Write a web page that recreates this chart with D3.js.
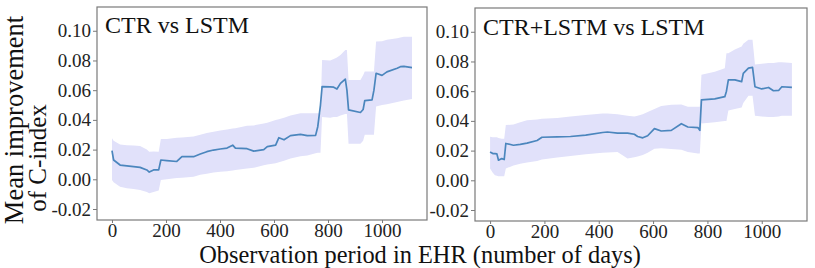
<!DOCTYPE html>
<html>
<head>
<meta charset="utf-8">
<script src="https://cdn.jsdelivr.net/npm/d3@7"></script>
<style>
  body { margin: 0; background: #fff; }
  svg text { font-family: "Liberation Serif", "Times New Roman", serif; }
</style>
</head>
<body>
<div id="chart"></div>
<script>
const xTicks = [0, 200, 400, 600, 800, 1000]
const yTicks = [-0.02, 0.00, 0.02, 0.04, 0.06, 0.08, 0.10]

// CTR vs LSTM
const daysA = [0, 6, 30, 55, 80, 104, 129, 138, 154, 173, 181, 203, 240, 259, 302, 327, 351, 376, 401, 426, 447, 457, 500, 525, 562, 575, 606, 618, 637, 661, 698, 723, 754, 762, 772, 778, 808, 821, 833, 846, 864, 870, 876, 920, 930, 936, 963, 970, 978, 1000, 1018, 1056, 1068, 1081, 1111]
const meanA = [0.0193, 0.013, 0.0096, 0.009, 0.0085, 0.008, 0.0063, 0.0049, 0.0063, 0.0063, 0.013, 0.0126, 0.012, 0.0152, 0.0152, 0.017, 0.0186, 0.0197, 0.0204, 0.021, 0.023, 0.021, 0.0206, 0.019, 0.020, 0.022, 0.023, 0.028, 0.0266, 0.0294, 0.0303, 0.0294, 0.0296, 0.0354, 0.0500, 0.0624, 0.0622, 0.0620, 0.0608, 0.0646, 0.0675, 0.0600, 0.0467, 0.0450, 0.0470, 0.0530, 0.0535, 0.0600, 0.0714, 0.0700, 0.0723, 0.0748, 0.0758, 0.0760, 0.0752]
const lowA = [-0.0005, -0.002, -0.005, -0.006, -0.0065, -0.0072, -0.0085, -0.0094, -0.0085, -0.0075, -0.0005, 0.000, 0.0008, 0.001, 0.0018, 0.003, 0.0038, 0.0045, 0.005, 0.0055, 0.006, 0.0062, 0.0072, 0.0078, 0.0095, 0.010, 0.0108, 0.0115, 0.0125, 0.014, 0.0155, 0.016, 0.0175, 0.0178, 0.0178, 0.042, 0.0415, 0.042, 0.042, 0.043, 0.044, 0.044, 0.024, 0.024, 0.026, 0.030, 0.030, 0.030, 0.049, 0.050, 0.0505, 0.052, 0.0525, 0.053, 0.054]
const highA = [0.0276, 0.026, 0.0235, 0.023, 0.0228, 0.0224, 0.020, 0.0186, 0.0188, 0.0186, 0.0272, 0.0272, 0.028, 0.0282, 0.0288, 0.030, 0.0312, 0.032, 0.0328, 0.0335, 0.0342, 0.0344, 0.036, 0.0363, 0.0375, 0.038, 0.040, 0.0405, 0.0415, 0.043, 0.0444, 0.0444, 0.0444, 0.0445, 0.0445, 0.0803, 0.080, 0.081, 0.082, 0.0837, 0.087, 0.087, 0.0669, 0.0669, 0.070, 0.0725, 0.0725, 0.0725, 0.0927, 0.093, 0.094, 0.095, 0.0955, 0.096, 0.096]

// CTR+LSTM vs LSTM
const daysB = [0, 10, 18, 25, 31, 43, 52, 58, 86, 111, 136, 173, 191, 247, 296, 352, 414, 432, 469, 506, 531, 543, 562, 580, 605, 630, 667, 704, 728, 765, 772, 778, 827, 864, 870, 877, 901, 926, 932, 951, 966, 975, 1000, 1025, 1043, 1062, 1074, 1111]
const meanB = [0.0191, 0.018, 0.018, 0.0178, 0.0135, 0.0146, 0.014, 0.0248, 0.0236, 0.0242, 0.025, 0.0268, 0.029, 0.0292, 0.0295, 0.0304, 0.0322, 0.0325, 0.0318, 0.0318, 0.031, 0.0295, 0.0286, 0.030, 0.0348, 0.0332, 0.0336, 0.0381, 0.0359, 0.0355, 0.0336, 0.0542, 0.0548, 0.0563, 0.0600, 0.0676, 0.0676, 0.0664, 0.072, 0.0755, 0.076, 0.063, 0.0615, 0.0625, 0.0603, 0.0605, 0.063, 0.0625]
const lowB = [0.0079, 0.005, 0.0034, 0.003, 0.0027, 0.0027, 0.0028, 0.0079, 0.010, 0.0112, 0.012, 0.013, 0.014, 0.0153, 0.0163, 0.0175, 0.0185, 0.0188, 0.019, 0.0146, 0.0155, 0.016, 0.017, 0.0185, 0.0213, 0.0215, 0.021, 0.0205, 0.019, 0.018, 0.018, 0.0382, 0.039, 0.040, 0.040, 0.047, 0.048, 0.049, 0.052, 0.057, 0.057, 0.0434, 0.043, 0.0426, 0.0426, 0.043, 0.0434, 0.0434]
const highB = [0.0293, 0.029, 0.029, 0.029, 0.0285, 0.028, 0.028, 0.0372, 0.0375, 0.039, 0.0405, 0.041, 0.0415, 0.042, 0.043, 0.0439, 0.045, 0.045, 0.0445, 0.0435, 0.043, 0.0435, 0.0445, 0.046, 0.048, 0.050, 0.0508, 0.051, 0.0495, 0.0495, 0.0495, 0.071, 0.073, 0.0755, 0.0856, 0.0856, 0.088, 0.090, 0.092, 0.0946, 0.0946, 0.078, 0.0785, 0.079, 0.079, 0.0795, 0.0795, 0.079]

const width = 815
const height = 268

const svg = d3.select("#chart")
  .append("svg")
    .attr("width", width)
    .attr("height", height)

function drawPanel(opts) {
  const { days, mean, low, high, title, left, right, top, bottom, titleY } = opts
  const rows = days.map((d, i) => ({ day: d, mean: mean[i], low: low[i], high: high[i] }))

  const x = d3.scaleLinear()
    .domain([-55.5, 1166.5])
    .range([left, right])

  const y = d3.scaleLinear()
    .domain([-0.0274, 0.116])
    .range([bottom, top])

  const g = svg.append("g")

  g.append("path")
    .datum(rows)
    .attr("fill", "#e1e1fa")
    .attr("d", d3.area()
      .x(d => x(d.day))
      .y0(d => y(d.low))
      .y1(d => y(d.high)))

  g.append("path")
    .datum(rows)
    .attr("fill", "none")
    .attr("stroke", "#4b86bd")
    .attr("stroke-width", 1.7)
    .attr("stroke-linejoin", "round")
    .attr("d", d3.line()
      .x(d => x(d.day))
      .y(d => y(d.mean)))

  g.append("rect")
    .attr("x", left)
    .attr("y", top)
    .attr("width", right - left)
    .attr("height", bottom - top)
    .attr("fill", "none")
    .attr("stroke", "#7a7a7a")
    .attr("stroke-width", 1.2)

  const yAxis = g.append("g")
    .attr("transform", `translate(${left},0)`)
    .call(d3.axisLeft(y).tickValues(yTicks).tickSize(4).tickPadding(2)
      .tickFormat(d => d < 0 ? "-" + d3.format(".2f")(-d) : d3.format(".2f")(d)))
  yAxis.select(".domain").remove()
  yAxis.selectAll("line").attr("stroke", "#7a7a7a")
  yAxis.selectAll("text")
    .attr("fill", "#222")
    .style("font-size", "19px")
    .style("font-family", "'Liberation Serif', serif")

  const xAxis = g.append("g")
    .attr("transform", `translate(0,${bottom})`)
    .call(d3.axisBottom(x).tickValues(xTicks).tickSize(3).tickPadding(0)
      .tickFormat(d3.format("d")))
  xAxis.select(".domain").remove()
  xAxis.selectAll("line").attr("stroke", "#7a7a7a")
  xAxis.selectAll("text")
    .attr("fill", "#222")
    .style("font-size", "19px")
    .style("font-family", "'Liberation Serif', serif")

  g.append("text")
    .attr("x", left + 8)
    .attr("y", titleY)
    .attr("fill", "#111")
    .style("font-size", "24px")
    .text(title)
}

drawPanel({ days: daysA, mean: meanA, low: lowA, high: highA, title: "CTR vs LSTM",
  left: 97, right: 427, top: 7, bottom: 220, titleY: 33 })

drawPanel({ days: daysB, mean: meanB, low: lowB, high: highB, title: "CTR+LSTM vs LSTM",
  left: 475, right: 807, top: 8, bottom: 221, titleY: 35 })

svg.append("text")
  .attr("transform", "translate(23,120) rotate(-90)")
  .attr("text-anchor", "middle")
  .attr("fill", "#111")
  .style("font-size", "26.5px")
  .text("Mean improvement")

svg.append("text")
  .attr("transform", "translate(46,158) rotate(-90)")
  .attr("text-anchor", "middle")
  .attr("fill", "#111")
  .style("font-size", "25px")
  .text("of C-index")

svg.append("text")
  .attr("x", 420)
  .attr("y", 263)
  .attr("text-anchor", "middle")
  .attr("fill", "#111")
  .style("font-size", "24.4px")
  .text("Observation period in EHR (number of days)")
</script>
</body>
</html>
